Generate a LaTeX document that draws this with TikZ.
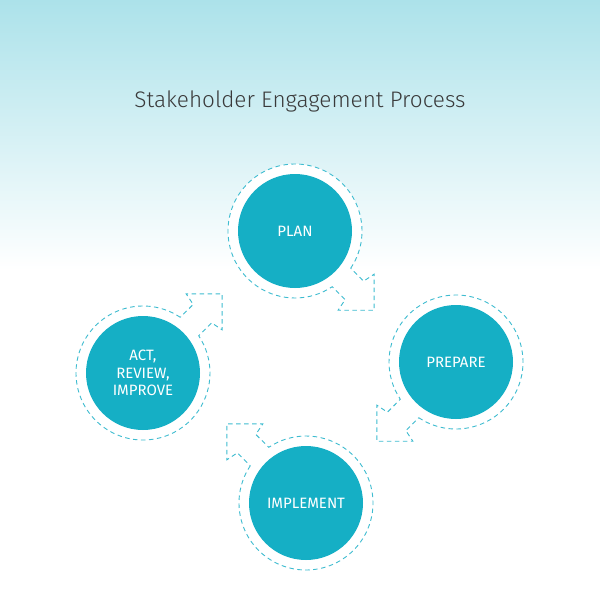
\documentclass[tikz,border=0pt]{standalone}
\usepackage{fontspec}
\setmainfont{Fira Sans}
\newfontfamily\thinfont{Fira Sans Light}
\usetikzlibrary{positioning}
\usetikzlibrary{backgrounds}

\definecolor{stagefill}{RGB}{21,175,197}
\definecolor{stageline}{RGB}{62,188,208}
\definecolor{skytop}{RGB}{172,226,234}
\definecolor{titlegray}{RGB}{58,58,58}

% dashed ring round a stage, with its arrow head
\newcommand{\ringarrow}[2]{%
  \begin{scope}[shift={(#1.center)}, rotate=#2]
    \draw[ring] (11.2:67) arc[start angle=11.2, end angle=348.8, radius=67]
      -- (84,-13) -- (86.5,-25.5) -- (112,0) -- (86.5,25.5) -- (84,13) -- cycle;
  \end{scope}}

\begin{document}
\begin{tikzpicture}
		[x=1pt, y=1pt,
		stage/.style={circle, fill=stagefill, minimum size=114pt, inner sep=0pt,
			text=white, align=center, font=\fontsize{15}{17.5}\selectfont},
		ring/.style={draw=stageline, fill=white, line width=0.9pt,
			dash pattern=on 4.5pt off 3.5pt},
		heading/.style={text=titlegray, font=\thinfont\fontsize{22.5}{27}\selectfont}]
		\useasboundingbox (0,0) rectangle (600,-600);

		\node[heading, anchor=base] (title) at (300,-107) {Stakeholder Engagement Process};

		\node[stage] (plan) at (295,-231) {PLAN};
		\node[stage, on grid, below right=131pt and 161pt of plan] (prepare) {PREPARE};
		\node[stage, on grid, below right=272pt and 11pt of plan] (implement) {IMPLEMENT};
		\node[stage, on grid, below left=142pt and 152pt of plan] (act) {ACT,\\REVIEW,\\IMPROVE};

		\begin{pgfonlayer}{background}
			\shade[top color=skytop, bottom color=white] (0,0) rectangle (600,-270);
			\fill[white] (0,-270) rectangle (600,-600);
			\ringarrow{plan}{-45}
			\ringarrow{prepare}{-135}
			\ringarrow{implement}{135}
			\ringarrow{act}{45}
		\end{pgfonlayer}
	\end{tikzpicture}
\end{document}
